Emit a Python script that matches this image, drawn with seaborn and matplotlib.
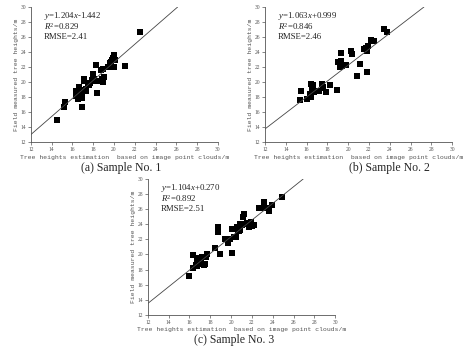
import numpy as np
import pandas as pd
import seaborn as sns
import matplotlib.pyplot as plt

# estimated (x) vs field measured (y) tree heights
a_est = [14.5, 15.2, 15.3, 16.3, 16.3, 16.5, 16.6, 16.6, 16.9, 16.9, 16.9, 17.0, 17.1, 17.1, 17.2,
         17.3, 17.3, 17.5, 17.7, 17.9, 18.0, 18.0, 18.1, 18.2, 18.3, 18.4, 18.7, 18.8, 18.9, 18.9,
         19.0, 19.4, 19.6, 19.8, 19.9, 20.0, 20.0, 20.1, 21.1, 22.5, 16.4, 17.6, 18.5, 19.7]
a_meas = [15.0, 16.7, 17.3, 18.8, 18.2, 17.8, 19.1, 19.3, 18.7, 17.9, 16.7, 18.9, 20.4, 20.1, 19.0,
          18.8, 19.1, 19.6, 19.9, 20.3, 20.9, 21.1, 20.4, 20.1, 22.3, 18.6, 21.6, 20.4, 20.0, 21.8,
          20.7, 22.0, 22.6, 22.9, 23.2, 23.6, 22.0, 23.0, 22.2, 26.7, 18.5, 19.6, 20.2, 22.7]

b_est = [15.5, 15.4, 16.0, 16.4, 16.3, 16.4, 16.6, 16.5, 16.6, 16.7, 16.5, 17.2, 17.5, 17.6, 17.6,
         17.9, 18.3, 18.9, 19.0, 19.2, 19.3, 19.3, 19.4, 19.8, 20.3, 20.4, 20.8, 21.1, 21.5, 21.7,
         21.8, 21.8, 21.9, 22.2, 22.5, 23.4, 23.7]
b_meas = [18.8, 17.6, 17.8, 18.0, 18.4, 19.7, 19.6, 19.1, 19.0, 18.7, 19.3, 18.8, 19.8, 19.2, 19.4,
          18.7, 19.6, 19.0, 22.7, 22.0, 22.8, 23.9, 22.1, 22.3, 24.2, 23.7, 20.8, 22.4, 24.4, 24.6,
          24.1, 21.4, 24.8, 25.6, 25.5, 27.1, 26.7]

c_est = [16.0, 16.3, 16.3, 16.6, 16.7, 16.7, 16.9, 17.1, 17.2, 17.2, 17.5, 17.6, 17.7, 17.4, 18.5,
         18.7, 18.7, 18.9, 19.4, 19.7, 19.9, 20.1, 20.1, 20.3, 20.5, 20.6, 20.7, 20.9, 20.9, 21.1,
         21.2, 21.3, 21.5, 21.7, 21.9, 22.0, 22.2, 22.7, 23.0, 23.2, 23.4, 23.6, 23.9, 24.9, 21.0,
         21.6, 20.8]
c_meas = [17.1, 18.2, 19.9, 18.6, 18.5, 19.4, 19.5, 19.3, 19.6, 18.7, 18.8, 19.6, 20.1, 18.6, 20.9,
          23.7, 23.0, 20.0, 22.0, 21.5, 22.1, 20.2, 23.4, 22.3, 22.3, 23.7, 23.1, 23.3, 24.1, 24.9,
          25.4, 24.1, 24.2, 23.7, 24.3, 23.8, 23.9, 26.1, 26.1, 27.0, 26.2, 25.8, 26.5, 27.6, 23.9,
          24.0, 23.1]

slopes = [1.204, 1.063, 1.104]
intercepts = [-1.442, 0.999, 0.270]
r2 = ["0.829", "0.846", "0.892"]
rmse = ["2.41", "2.46", "2.51"]
eq_text = ["1.204", "-1.442", "1.063", "+0.999", "1.104", "+0.270"]
captions = ["(a)", "(b)", "(c)"]
sample_no = ["1", "2", "3"]
ticks = list(range(12, 31, 2))

sns.set_style("ticks")
plt.rcParams["font.family"] = ["Liberation Serif", "DejaVu Serif"]
plt.rcParams["mathtext.fontset"] = "custom"
plt.rcParams["mathtext.rm"] = "Liberation Serif"
plt.rcParams["mathtext.it"] = "Liberation Serif:italic"

fig = plt.figure(figsize=(4.74, 3.51), dpi=100)
boxes = [[0.065, 0.595, 0.395, 0.385],
         [0.559, 0.595, 0.395, 0.385],
         [0.312, 0.103, 0.395, 0.387]]
cap_pos = [(0.256, 0.52), (0.822, 0.52), (0.493, 0.031)]
data = [(a_est, a_meas), (b_est, b_meas), (c_est, c_meas)]

for i, (xs, ys) in enumerate(data):
    ax = fig.add_axes(boxes[i])
    df = pd.DataFrame({"est": xs, "meas": ys})
    sns.scatterplot(data=df, x="est", y="meas", marker="s", s=13, color="black",
                    edgecolor="black", linewidth=0, ax=ax)
    # fitted line, clipped to the plot frame
    x_end = (30 - intercepts[i]) / slopes[i]
    line_x = np.array([12, x_end])
    sns.lineplot(x=line_x, y=slopes[i] * line_x + intercepts[i], color="#444444",
                 linewidth=0.6, ax=ax)
    ax.set_xlim(12, 30)
    ax.set_ylim(12, 30)
    ax.set_xticks(ticks)
    ax.set_yticks(ticks)
    ax.tick_params(labelsize=4, colors="#555555", length=2, width=0.5, pad=1.5)
    for sp in ["left", "bottom"]:
        ax.spines[sp].set_linewidth(0.6)
        ax.spines[sp].set_color("#555555")
    sns.despine(ax=ax)
    ax.set_xlabel("Tree heights estimation  based on image point clouds/m",
                  fontsize=4.6, family="Liberation Mono", color="#555555", labelpad=2)
    ax.set_ylabel("Field measured tree heights/m", fontsize=4.6,
                  family="Liberation Mono", color="#555555", labelpad=1)
    lines = ["$y$=" + eq_text[2 * i] + "$x$" + eq_text[2 * i + 1],
             "$R^2$=" + r2[i],
             "RMSE=" + rmse[i]]
    for k, line in enumerate(lines):
        ax.text(0.07, 0.933 - 0.078 * k, line, transform=ax.transAxes, fontsize=6.3,
                va="center", color="#222222")
    fig.text(cap_pos[i][0], cap_pos[i][1], captions[i] + " Sample No. " + sample_no[i],
             fontsize=8.5, ha="center", va="center")

fig.savefig("out.png", dpi=100)
